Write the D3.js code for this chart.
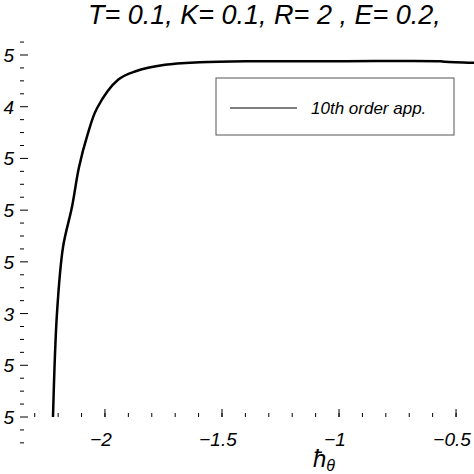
<!DOCTYPE html>
<html><head><meta charset="utf-8">
<script src="https://cdn.jsdelivr.net/npm/d3@7"></script>
<style>body{margin:0;background:#fff}svg{display:block}text{font-family:"Liberation Sans",Arial,sans-serif}</style>
</head><body><svg id="chart" width="474" height="474"></svg>
<script>
// curve (x = hbar_theta, y = value in tick units)
hVals = [-2.222, -2.205, -2.179, -2.141, -2.111, -2.075, -2.034, -1.944, -1.872, -1.744, -1.594, -1.38, -1.0, -0.568, -0.547, -0.423]
yVals = [0, 2.01, 3.29, 4.06, 4.83, 5.45, 5.97, 6.52, 6.68, 6.81, 6.86, 6.88, 6.88, 6.88, 6.87, 6.85]
xTicks = [-2, -1.5, -1, -0.5]
yTicks = [0, 1, 2, 3, 4, 5, 6, 7]
yTickLabels = ["5", "5", "3", "5", "5", "5", "4", "5"]

svg = d3.select("#chart")
left = 20, top = 35, bottom = 417, right = 490

x = d3.scaleLinear().domain([-2.363, -0.355]).range([left, right])
y = d3.scaleLinear().domain([0, 7]).range([bottom, 55])

g = svg.append("g")
// minor x ticks
d3.range(-2.3, -0.35, 0.1).forEach(v => {
  [bottom, top].forEach(yy => {
    g.append("line").attr("x1", x(v)).attr("x2", x(v))
      .attr("y1", yy).attr("y2", yy === bottom ? yy - 4 : yy + 4)
      .attr("stroke", "#000").attr("stroke-width", 1)
  })
})
xTicks.forEach(v => {
  [bottom, top].forEach(yy => {
    g.append("line").attr("x1", x(v)).attr("x2", x(v))
      .attr("y1", yy).attr("y2", yy === bottom ? yy - 8 : yy + 8)
      .attr("stroke", "#000").attr("stroke-width", 1)
  })
  g.append("text").attr("x", x(v) - 4).attr("y", 446).attr("text-anchor", "middle")
    .attr("font-size", 19).attr("font-style", "italic").text("\u2212" + Math.abs(v))
})
// y ticks
d3.range(-0.5, 7.4, 0.25).forEach(v => {
  g.append("line").attr("x1", left).attr("x2", left + (v % 1 === 0 ? 8 : 4))
    .attr("y1", y(v)).attr("y2", y(v)).attr("stroke", "#000")
})
yTicks.forEach((v, i) => {
  g.append("text").attr("x", 14).attr("y", y(v) + 7).attr("text-anchor", "end")
    .attr("font-size", 19).attr("font-style", "italic").text(yTickLabels[i])
})
// frame
g.append("rect").attr("x", left).attr("y", top).attr("width", right - left).attr("height", bottom - top)
  .attr("fill", "none").attr("stroke", "#000").attr("stroke-width", 2.5)

line = d3.line().x(d => x(d[0])).y(d => y(d[1])).curve(d3.curveCatmullRom.alpha(0.5))
g.append("path").datum(d3.zip(hVals, yVals)).attr("d", line)
  .attr("fill", "none").attr("stroke", "#000").attr("stroke-width", 2.5)

// legend
g.append("rect").attr("x", 216).attr("y", 78).attr("width", 238).attr("height", 57)
  .attr("fill", "#fff").attr("stroke", "#555").attr("stroke-width", 1)
g.append("line").attr("x1", 230).attr("x2", 297).attr("y1", 108).attr("y2", 108).attr("stroke", "#000")
g.append("text").attr("x", 311).attr("y", 114).attr("font-size", 17).attr("font-style", "italic").text("10th order app.")

svg.append("text").attr("x", 88).attr("y", 24).attr("font-size", 27).attr("font-style", "italic")
  .text("T= 0.1,  K= 0.1,  R= 2 ,  E= 0.2,")
svg.append("text").attr("x", 313).attr("y", 467).attr("font-size", 24).attr("font-style", "italic")
  .html("\u0127<tspan font-size='16' dy='4'>\u03b8</tspan>")
</script></body></html>
